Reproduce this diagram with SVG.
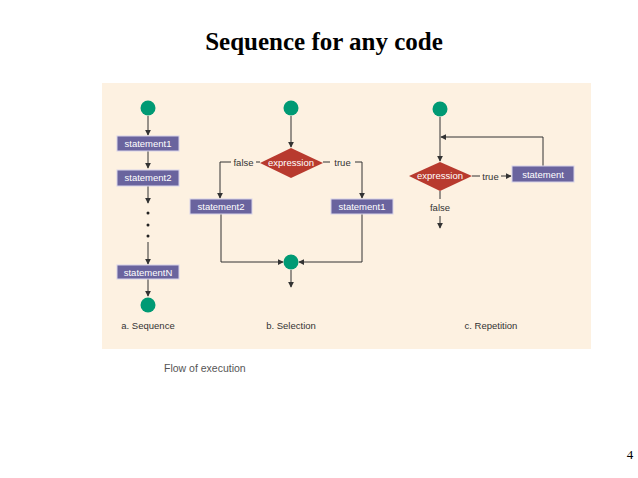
<svg xmlns="http://www.w3.org/2000/svg" width="638" height="478" viewBox="0 0 638 478">
<defs>
<marker id="ah" viewBox="0 0 8 8" refX="7" refY="4" markerWidth="6" markerHeight="6" orient="auto"><path d="M0,0 L8,4 L0,8 z" fill="#333"/></marker>
<style>
.c{fill:#009a74}
.b{fill:#6a649e;stroke:#d8d4ea;stroke-width:1}
.d{fill:#b83a2e}
.w{font-family:"Liberation Sans",sans-serif;font-size:9.5px;fill:#fff;text-anchor:middle}
.t{font-family:"Liberation Sans",sans-serif;font-size:9.5px;fill:#333;text-anchor:middle}
.l{stroke:#333;stroke-width:1;fill:none}
.a{stroke:#333;stroke-width:1;fill:none;marker-end:url(#ah)}
</style>
</defs>
<rect width="638" height="478" fill="#fff"/>
<text x="324" y="50" font-family="Liberation Serif,serif" font-weight="bold" font-size="25" text-anchor="middle">Sequence for any code</text>
<rect x="102" y="83" width="489" height="266" fill="#fdf1e1"/>
<g id="connectors">
<line class="a" x1="148" y1="116" x2="148" y2="135"/>
<line class="a" x1="148" y1="151" x2="148" y2="168"/>
<line class="a" x1="148" y1="186" x2="148" y2="203"/>
<line class="a" x1="148" y1="242" x2="148" y2="264"/>
<line class="a" x1="148" y1="279" x2="148" y2="296"/>
<line class="a" x1="291" y1="116" x2="291" y2="147"/>
<polyline class="a" points="231,162 220,162 220,198"/>
<polyline class="a" points="355,162 362,162 362,198"/>
<line class="l" x1="256" y1="162" x2="260" y2="162"/>
<line class="l" x1="323" y1="162" x2="330" y2="162"/>
<polyline class="a" points="221,214 221,262 283,262"/>
<polyline class="a" points="362,214 362,262 299,262"/>
<line class="a" x1="291" y1="270" x2="291" y2="287"/>
<line class="a" x1="440" y1="117" x2="440" y2="161"/>
<polyline class="a" points="543,166 543,137 441,137"/>
<line class="l" x1="472" y1="176" x2="480" y2="176"/>
<line class="a" x1="501" y1="176" x2="511" y2="176"/>
<line class="l" x1="440" y1="191" x2="440" y2="199"/>
<line class="a" x1="440" y1="216" x2="440" y2="228"/>
<text class="t" x="243.5" y="165.5">false</text>
<text class="t" x="342.5" y="165.5">true</text>
<text class="t" x="490.5" y="179.5">true</text>
<text class="t" x="440" y="211">false</text>
</g>
<g id="seq">
<circle class="c" cx="148" cy="108" r="7.5"/>
<rect class="b" x="117" y="136" width="62" height="15"/><text class="w" x="148" y="147">statement1</text>
<rect class="b" x="117" y="170" width="62" height="16"/><text class="w" x="148" y="181">statement2</text>
<circle cx="148" cy="213" r="1.5" fill="#222"/><circle cx="148" cy="225" r="1.5" fill="#222"/><circle cx="148" cy="236" r="1.5" fill="#222"/>
<rect class="b" x="117" y="265" width="62" height="14"/><text class="w" x="148" y="275.5">statementN</text>
<circle class="c" cx="148" cy="305" r="7.5"/>
<text class="t" x="148" y="329">a. Sequence</text>
</g>
<g id="sel">
<circle class="c" cx="291" cy="108" r="7.5"/>
<polygon class="d" points="260,163 291,148 323,163 291,178"/><text class="w" x="291" y="166">expression</text>
<rect class="b" x="190" y="199" width="62" height="15"/><text class="w" x="221" y="210">statement2</text>
<rect class="b" x="331" y="199" width="62" height="15"/><text class="w" x="362" y="210">statement1</text>
<circle class="c" cx="291" cy="262" r="7.5"/>
<text class="t" x="291" y="329">b. Selection</text>
</g>
<g id="rep">
<circle class="c" cx="440" cy="109" r="7.5"/>
<polygon class="d" points="409,176 440,162 472,176 440,191"/><text class="w" x="440" y="179">expression</text>
<rect class="b" x="512" y="166" width="62" height="16"/><text class="w" x="543" y="178">statement</text>
<text class="t" x="491" y="329">c. Repetition</text>
</g>
<text x="164" y="372" font-family="Liberation Sans,sans-serif" font-size="10.5" fill="#555">Flow of execution</text>
<text x="630" y="459" font-family="Liberation Serif,serif" font-size="13" text-anchor="middle">4</text>
</svg>
